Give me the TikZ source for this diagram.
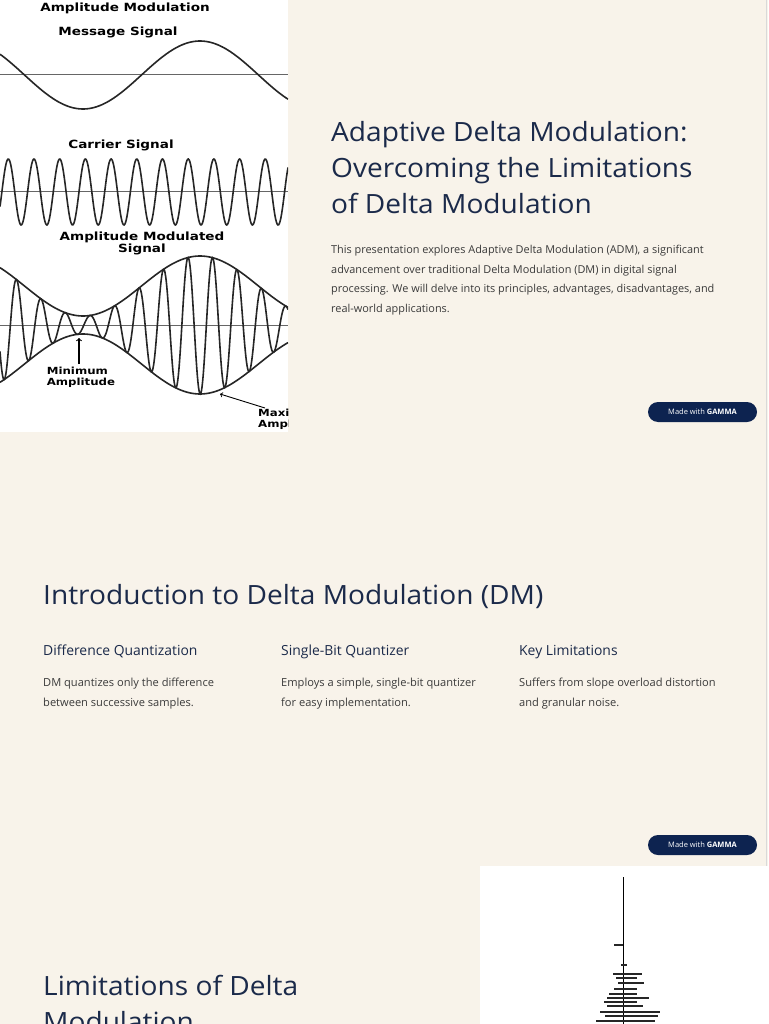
\documentclass[tikz,border=0pt]{standalone}
\usepackage{fontspec}
\setmainfont{Open Sans}
\newfontfamily\headfont[FakeStretch=1.06]{Open Sans}
\newfontfamily\labfont[FakeStretch=1.2]{DejaVu Sans}
\begin{document}
\begin{tikzpicture}[x=1pt,y=-1pt,
  navytext/.style={text=navy,inner sep=0pt,anchor=base west},
  bodytext/.style={text=bodygray,inner sep=0pt,anchor=base west,font=\fontsize{10.9}{12}\selectfont},
  coltext/.style={text=bodygray,inner sep=0pt,anchor=base west,font=\fontsize{11.1}{12}\selectfont},
  bigtitle/.style={navytext,font=\headfont\fontsize{26.5}{32}\selectfont},
  colhead/.style={navytext,font=\fontsize{13.9}{16}\selectfont},
  lab/.style={inner sep=0pt,font=\labfont\bfseries\fontsize{11.3}{12}\selectfont,align=center},
  smlab/.style={inner sep=0pt,font=\labfont\bfseries\fontsize{9.8}{11}\selectfont},
  wave/.style={line width=1.6pt,black!85},
  axisl/.style={line width=1pt,black!60},
  badge/.style={fill=badgeblue,rounded corners=10pt,text=white,inner sep=0pt,minimum width=109pt,minimum height=20pt,font=\fontsize{7.5}{8}\selectfont}]
\definecolor{cream}{HTML}{F8F3EA}
\definecolor{navy}{HTML}{1B2A4A}
\definecolor{bodygray}{HTML}{3A3A3A}
\definecolor{badgeblue}{HTML}{0D2350}
\useasboundingbox (0,0) rectangle (768,1024);
\clip (0,0) rectangle (768,1024);
\fill[cream] (0,0) rectangle (768,1024);
\draw[black!15,line width=1pt] (766.5,0) -- (766.5,1024);
% top-left image
\fill[white] (0,0) rectangle (288,432);
\begin{scope}
\clip (0,0) rectangle (288,432);
\draw[axisl] (0,75) -- (288,75);
\draw[wave] plot[domain=0:288,samples=120] (\x,{75-34*sin(1.53846*(\x-141.5))});
\draw[axisl] (0,192) -- (288,192);
\draw[wave] plot[domain=0:288,samples=400] (\x,{192-33*cos(14.008*(\x-8.3))});
\draw[axisl] (0,325) -- (288,325);
\draw[wave] plot[domain=0:288,samples=120] (\x,{325-(39+30*sin(1.53846*(\x-141.5)))});
\draw[wave] plot[domain=0:288,samples=120] (\x,{325+(39+30*sin(1.53846*(\x-141.5)))});
\draw[wave] plot[domain=0:288,samples=500] (\x,{325-(39+30*sin(1.53846*(\x-141.5)))*cos(14.694*(\x-188))});
\node[lab,anchor=base] (t1) at (125,12) {Amplitude Modulation};
\node[lab,anchor=base] (t2) at (118,36) {Message Signal};
\node[lab,anchor=base] (t3) at (121,149) {Carrier Signal};
\node[lab,anchor=base] (t4) at (142,252) {Amplitude Modulated\\Signal};
\node[smlab,anchor=north,align=left] (t5) at (81,367) {Minimum\\Amplitude};
\node[smlab,anchor=north west,align=left] (t6) at (258,409) {Maximum\\Amplitude};
\coordinate (a1) at (79,338);
\coordinate (a2) at (220,394);
\coordinate (a1s) at (79,364);
\coordinate (a2s) at (265,408);
\draw[->,line width=1.1pt] (a1s) -- (a1);
\draw[->,line width=0.9pt] (a2s) -- (a2);
\end{scope}
% title
\node[bigtitle] (title1) at (331,142) {Adaptive Delta Modulation:};
\node[bigtitle] (title2) at (331,178) {Overcoming the Limitations};
\node[bigtitle] (title3) at (331,214) {of Delta Modulation};
\node[bodytext] (b1) at (331,253) {This presentation explores Adaptive Delta Modulation (ADM), a significant};
\node[bodytext] (b2) at (331,273) {advancement over traditional Delta Modulation (DM) in digital signal};
\node[bodytext] (b3) at (331,292) {processing. We will delve into its principles, advantages, disadvantages, and};
\node[bodytext] (b4) at (331,312) {real-world applications.};
\node[badge] (badge1) at (702.5,412) {Made with \textbf{GAMMA}};
% section 2
\node[bigtitle] (s2) at (43,604) {Introduction to Delta Modulation (DM)};
\node[colhead] (h1) at (43,655) {Difference Quantization};
\node[colhead] (h2) at (281,655) {Single-Bit Quantizer};
\node[colhead] (h3) at (519,655) {Key Limitations};
\node[coltext] (c1a) at (43,686) {DM quantizes only the difference};
\node[coltext] (c1b) at (43,706) {between successive samples.};
\node[coltext] (c2a) at (281,686) {Employs a simple, single-bit quantizer};
\node[coltext] (c2b) at (281,706) {for easy implementation.};
\node[coltext] (c3a) at (519,686) {Suffers from slope overload distortion};
\node[coltext] (c3b) at (519,706) {and granular noise.};
\node[badge] (badge2) at (702.5,845) {Made with \textbf{GAMMA}};
% section 3
\fill[white] (480,866) rectangle (768,1024);
\draw[black,line width=0.8pt] (623,877) -- (623,1024);
\foreach \yy/\xa/\xb in {945/614/623,965/621/627,974/613/642,978/616/637,983/618/644,989/614/637,994/609/637,998/607/649,1002/604/637,1006/607/643,1012/600/660,1016/605/658,1021/596/655}
  \draw[black!85,line width=1.3pt] (\xa,\yy) -- (\xb,\yy);
\node[bigtitle] (s3a) at (43,995) {Limitations of Delta};
\node[bigtitle] (s3b) at (43,1031) {Modulation};
\end{tikzpicture}
\end{document}
